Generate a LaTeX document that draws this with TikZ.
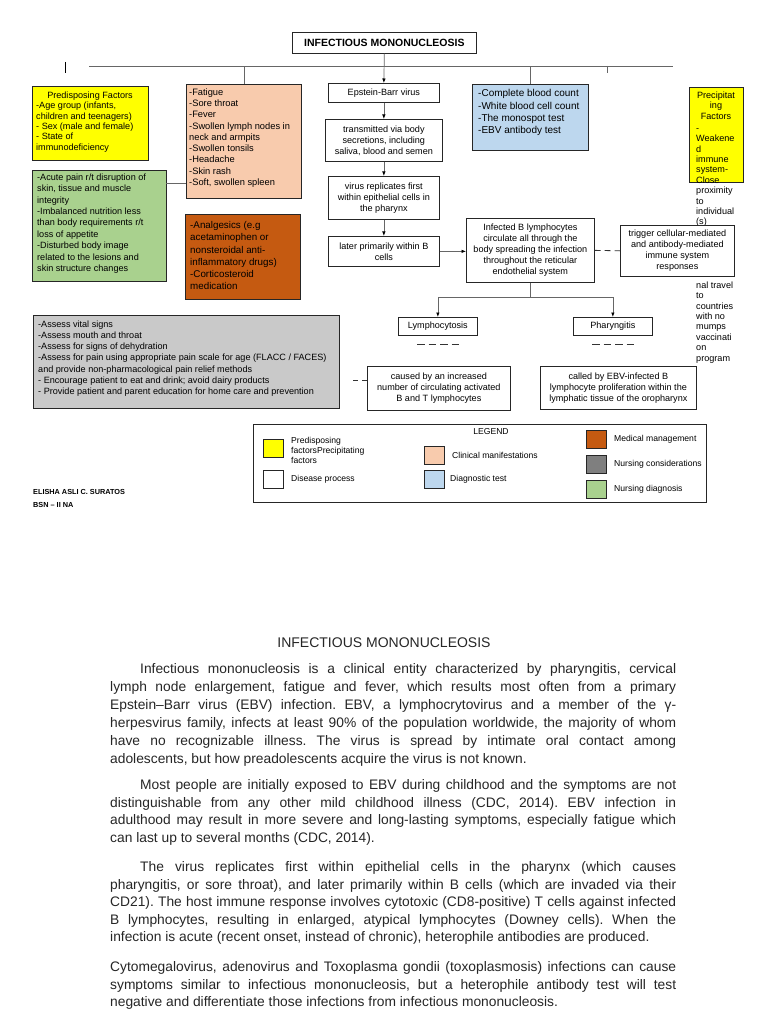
\documentclass[tikz,border=0pt]{standalone}
\usepackage{fontspec}
\setmainfont{Liberation Sans}
\usetikzlibrary{arrows.meta}
\definecolor{cyel}{HTML}{FFFF00}
\definecolor{cpeach}{HTML}{F8CBAD}
\definecolor{cgreen}{HTML}{A9D18E}
\definecolor{corange}{HTML}{C55A11}
\definecolor{cblue}{HTML}{BDD7EE}
\definecolor{cgrayl}{HTML}{C9C9C9}
\definecolor{cgrayd}{HTML}{7F7F7F}
\frenchspacing
\newcommand\fsz[2]{\fontsize{#1}{#2}\selectfont}
\newcommand\myJ[3]{\node[body] (#1) at (110,#2) {\strut\makebox[566pt][s]{#3}};}
\newcommand\myI[3]{\node[body] (#1) at (140,#2) {\strut\makebox[536pt][s]{#3}};}
\newcommand\myL[3]{\node[body] (#1) at (110,#2) {\strut #3};}
\begin{document}
\begin{tikzpicture}[x=1pt,y=-1pt,
  bx/.style={draw=black!85, line width=0.7pt, anchor=north west, inner sep=0pt, align=center, font=\fsz{9.1}{11}},
  tx/.style={inner sep=0pt, anchor=north west, align=left, font=\fsz{9.1}{11}},
  con/.style={draw=black!60, line width=0.7pt},
  arr/.style={con, -{Latex[length=4.5pt,width=3.5pt,black]}},
  dsh/.style={draw=black!80, line width=0.8pt},
  sw/.style={draw=black!85, line width=0.7pt, anchor=north west, inner sep=0pt, minimum width=20pt, minimum height=18pt},
  lg/.style={inner sep=0pt, anchor=west, align=left, font=\fsz{8.6}{10}},
  body/.style={inner sep=0pt, anchor=west, font=\fsz{13.8}{17.5}, text=black!85}]
\fill[white] (0,0) rectangle (768,1024);
\useasboundingbox (0,0) rectangle (768,1024);

% ---------- title and top rail ----------
\node[bx, minimum width=184pt, minimum height=21pt, font=\bfseries\fsz{10.5}{12}] (title) at (292,32) {INFECTIOUS MONONUCLEOSIS};
\coordinate (ltop) at (89,66);
\coordinate (rtop) at (673,66);
\draw[con] (ltop) -- (rtop);
\coordinate (bar) at (65,62);
\draw[line width=0.9pt] (bar) -- ++(0,11);
\coordinate (tick) at (607,66);
\draw[con] (tick) -- ++(0,7);

% ---------- disease process chain ----------
\node[bx, minimum width=111pt, minimum height=19pt] (eb) at (328,83) {Epstein-Barr virus};
\node[bx, minimum width=117pt, minimum height=42pt] (trn) at (325,119) {transmitted via body\\secretions, including\\saliva, blood and semen};
\node[bx, minimum width=111pt, minimum height=43pt] (vr) at (328,176) {virus replicates first\\within epithelial cells in\\the pharynx};
\node[bx, minimum width=111pt, minimum height=30pt] (lb) at (328,236) {later primarily within B\\cells};

% ---------- predisposing factors ----------
\node[bx, fill=cyel, minimum width=116pt, minimum height=74pt] (pred) at (32,86) {};
\node[tx, anchor=north, font=\fsz{9.1}{10.3}] (predh) at (90,91) {\strut Predisposing Factors};
\node[tx, font=\fsz{9.1}{10.3}] (predt) at (36,101.5) {\strut-Age group (infants,\\children and teenagers)\\- Sex (male and female)\\- State of\\immunodeficiency};

% ---------- clinical manifestations ----------
\node[bx, fill=cpeach, minimum width=115pt, minimum height=114pt] (peach) at (186,84) {};
\node[tx, font=\fsz{9.3}{11.25}] (peacht) at (189,87.3) {\strut-Fatigue\\-Sore throat\\-Fever\\-Swollen lymph nodes in\\neck and armpits\\-Swollen tonsils\\-Headache\\-Skin rash\\-Soft, swollen spleen};

% ---------- nursing diagnosis ----------
\node[bx, fill=cgreen, minimum width=134pt, minimum height=111pt] (green) at (32,170) {};
\node[tx, font=\fsz{9.1}{11.4}] (greent) at (37,172.1) {\strut-Acute pain r/t disruption of\\skin, tissue and muscle\\integrity\\-Imbalanced nutrition less\\than body requirements r/t\\loss of appetite\\-Disturbed body image\\related to the lesions and\\skin structure changes};

% ---------- medical management ----------
\node[bx, fill=corange, minimum width=115pt, minimum height=85pt] (orange) at (185,214) {};
\node[tx, font=\fsz{9.8}{12.2}] (oranget) at (190,219.9) {\strut-Analgesics (e.g\\acetaminophen or\\nonsteroidal anti-\\inflammatory drugs)\\-Corticosteroid\\medication};

% ---------- diagnostic test ----------
\node[bx, fill=cblue, minimum width=116pt, minimum height=66pt] (blue) at (472,84) {};
\node[tx, font=\fsz{10}{12.3}] (bluet) at (478,87.9) {\strut-Complete blood count\\-White blood cell count\\-The monospot test\\-EBV antibody test};

% ---------- precipitating factors ----------
\node[bx, fill=cyel, minimum width=54pt, minimum height=95pt] (prec) at (689,87) {};
\node[tx, anchor=north, align=center, font=\fsz{9.1}{10.6}] (prech) at (716,90.7) {\strut Precipitat\\ing\\Factors};
\node[tx, font=\fsz{9.1}{10.4}] (prect) at (696,123.8) {\strut-\\Weakene\\d\\immune\\system-\\Close\\proximity\\to\\individual\\(s)};
\node[tx, font=\fsz{9.1}{10.4}] (precb) at (696,280.8) {\strut nal travel\\to\\countries\\with no\\mumps\\vaccinati\\on\\program};

% ---------- B lymphocytes ----------
\node[bx, minimum width=128pt, minimum height=64pt] (inf) at (466,218) {Infected B lymphocytes\\circulate all through the\\body spreading the infection\\throughout the reticular\\endothelial system};
\node[bx, fill=white, minimum width=114pt, minimum height=51pt] (trig) at (620,225) {trigger cellular-mediated\\and antibody-mediated\\immune system\\responses};
\node[bx, minimum width=79pt, minimum height=18pt] (lym) at (398,317) {Lymphocytosis};
\node[bx, minimum width=79pt, minimum height=18pt] (pha) at (573,317) {Pharyngitis};
\node[bx, minimum width=143pt, minimum height=44pt] (caused) at (367,366) {caused by an increased\\number of circulating activated\\B and T lymphocytes};
\node[bx, minimum width=156pt, minimum height=43pt] (called) at (540,366) {called by EBV-infected B\\lymphocyte proliferation within the\\lymphatic tissue of the oropharynx};

% ---------- nursing considerations ----------
\node[bx, fill=cgrayl, minimum width=306pt, minimum height=93pt] (gray) at (33,315) {};
\node[tx, font=\fsz{9.1}{11.2}] (grayt) at (38,319.3) {\strut-Assess vital signs\\-Assess mouth and throat\\-Assess for signs of dehydration\\-Assess for pain using appropriate pain scale for age (FLACC / FACES)\\and provide non-pharmacological pain relief methods\\- Encourage patient to eat and drink; avoid dairy products\\- Provide patient and parent education for home care and prevention};

% ---------- connectors ----------
\draw[arr] (title.south) -- (eb.north);
\draw[arr] (eb.south) -- (trn.north);
\draw[arr] (trn.south) -- (vr.north);
\draw[arr] (vr.south) -- (lb.north);
\draw[arr] (lb.east) -- (inf.west |- lb.east);
\draw[con] (peach.north) -- (peach.north |- ltop);
\draw[con] (blue.north) -- (blue.north |- ltop);
\coordinate (gp) at (166,183);
\draw[con] (gp) -- (gp -| peach.west);
\draw[dsh, dash pattern=on 6pt off 4pt] (inf.east) -- (trig.west);
\path (inf.south) ++(0,15) coordinate (split);
\draw[con] (inf.south) -- (split);
\draw[arr] (split) -| (lym.north);
\draw[arr] (split) -| (pha.north);
\coordinate (ld) at (417,344);
\draw[dsh, dash pattern=on 7.5pt off 4pt] (ld) -- ++(42,0);
\coordinate (pd) at (592,344);
\draw[dsh, dash pattern=on 7.5pt off 4pt] (pd) -- ++(42,0);
\coordinate (cd) at (353,380);
\draw[dsh, dash pattern=on 5pt off 4pt] (cd) -- (caused.west |- cd);

% ---------- legend ----------
\node[bx, minimum width=453pt, minimum height=78pt] (legend) at (253,424) {};
\node[lg, anchor=center] (legt) at (491,432) {LEGEND};
\node[sw, fill=cyel] (swy) at (263,439) {};
\node[lg] (lgy) at (291,450) {Predisposing\\factorsPrecipitating\\factors};
\node[sw, fill=white] (sww) at (263,470) {};
\node[lg] (lgw) at (291,479) {Disease process};
\node[sw, fill=cpeach] (swp) at (424,446) {};
\node[lg] (lgp) at (452,455) {Clinical manifestations};
\node[sw, fill=cblue] (swb) at (424,470) {};
\node[lg] (lgb) at (450,479) {Diagnostic test};
\node[sw, fill=corange] (swo) at (586,430) {};
\node[lg] (lgo) at (614,439) {Medical management};
\node[sw, fill=cgrayd] (swg) at (586,455) {};
\node[lg] (lgg) at (614,464) {Nursing considerations};
\node[sw, fill=cgreen] (swn) at (586,480) {};
\node[lg] (lgn) at (614,489) {Nursing diagnosis};

% ---------- author ----------
\node[anchor=west, inner sep=0pt, font=\bfseries\fsz{7.3}{9}] (auth1) at (33,492) {ELISHA ASLI C. SURATOS};
\node[anchor=west, inner sep=0pt, font=\bfseries\fsz{7.3}{9}] (auth2) at (33,505) {BSN – II NA};

% ---------- body text ----------
\node[inner sep=0pt, font=\fsz{14}{17}, text=black!85] (btitle) at (384,643) {INFECTIOUS MONONUCLEOSIS};
\myI{p1a}{670}{Infectious mononucleosis is a clinical entity characterized by pharyngitis, cervical}
\myJ{p1b}{688}{lymph node enlargement, fatigue and fever, which results most often from a primary}
\myJ{p1c}{706}{Epstein–Barr virus (EBV) infection. EBV, a lymphocrytovirus and a member of the γ-}
\myJ{p1d}{724}{herpesvirus family, infects at least 90\% of the population worldwide, the majority of whom}
\myJ{p1e}{742}{have no recognizable illness. The virus is spread by intimate oral contact among}
\myL{p1f}{760}{adolescents, but how preadolescents acquire the virus is not known.}
\myI{p2a}{786}{Most people are initially exposed to EBV during childhood and the symptoms are not}
\myJ{p2b}{803.5}{distinguishable from any other mild childhood illness (CDC, 2014). EBV infection in}
\myJ{p2c}{821}{adulthood may result in more severe and long-lasting symptoms, especially fatigue which}
\myL{p2d}{838.5}{can last up to several months (CDC, 2014).}
\myI{p3a}{868}{The virus replicates first within epithelial cells in the pharynx (which causes}
\myJ{p3b}{885.5}{pharyngitis, or sore throat), and later primarily within B cells (which are invaded via their}
\myJ{p3c}{903}{CD21). The host immune response involves cytotoxic (CD8-positive) T cells against infected}
\myJ{p3d}{920.5}{B lymphocytes, resulting in enlarged, atypical lymphocytes (Downey cells). When the}
\myL{p3e}{938}{infection is acute (recent onset, instead of chronic), heterophile antibodies are produced.}
\myJ{p4a}{968}{Cytomegalovirus, adenovirus and Toxoplasma gondii (toxoplasmosis) infections can cause}
\myJ{p4b}{985.5}{symptoms similar to infectious mononucleosis, but a heterophile antibody test will test}
\myL{p4c}{1003}{negative and differentiate those infections from infectious mononucleosis.}
\end{tikzpicture}
\end{document}
